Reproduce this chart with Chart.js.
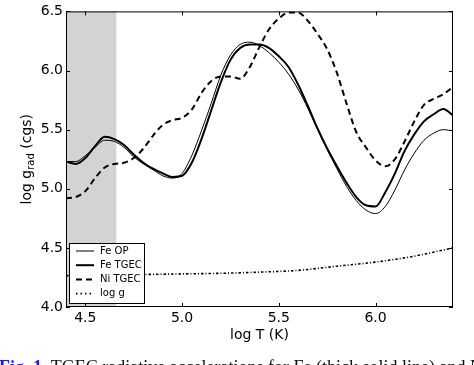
<!DOCTYPE html>
<html>
<head>
<meta charset="utf-8">
<script src="https://cdn.jsdelivr.net/npm/chart.js@4.4.1/dist/chart.umd.min.js"></script>
<style>
  html, body { margin: 0; padding: 0; background: #fff; overflow: hidden; }
  #wrap { position: relative; width: 474px; height: 365px; overflow: hidden; }
  #grafico { position: absolute; left: 0; top: 0; }
  #legenda {
    position: absolute; left: -1px; top: 357px; white-space: nowrap;
    font-family: "Liberation Serif", serif; font-size: 18px; color: #111;
  }
  #legenda b { color: #1a1aff; }
</style>
</head>
<body>
<div id="wrap">
  <canvas id="grafico" width="474" height="365"></canvas>
  <div id="legenda"><b>Fig. 1.</b> TGEC radiative accelerations for Fe (thick solid line) and Ni</div>
</div>
<script>
// valores
const logT = [4.40, 4.45, 4.50, 4.55, 4.60, 4.65, 4.70, 4.75, 4.80, 4.85, 4.90, 4.95,
  5.00, 5.05, 5.10, 5.15, 5.20, 5.25, 5.30, 5.35, 5.40, 5.45, 5.50, 5.55, 5.60, 5.65,
  5.70, 5.75, 5.80, 5.85, 5.90, 5.95, 6.00, 6.05, 6.10, 6.15, 6.20, 6.25, 6.30, 6.35, 6.40];

const feOP = [5.23, 5.23, 5.28, 5.35, 5.41, 5.40, 5.35, 5.27, 5.21, 5.16, 5.11, 5.09,
  5.13, 5.28, 5.49, 5.72, 5.96, 6.13, 6.22, 6.24, 6.21, 6.15, 6.07, 5.97, 5.84, 5.68,
  5.50, 5.33, 5.17, 5.02, 4.90, 4.82, 4.79, 4.85, 4.99, 5.16, 5.30, 5.41, 5.47, 5.50, 5.49];

const feTGEC = [5.23, 5.21, 5.26, 5.36, 5.44, 5.42, 5.37, 5.29, 5.22, 5.17, 5.13, 5.10,
  5.11, 5.22, 5.42, 5.66, 5.90, 6.09, 6.19, 6.22, 6.22, 6.19, 6.12, 6.03, 5.88, 5.70,
  5.51, 5.34, 5.19, 5.05, 4.93, 4.86, 4.85, 4.97, 5.13, 5.32, 5.46, 5.57, 5.63, 5.675, 5.62];

const niTGEC = [4.92, 4.93, 4.98, 5.09, 5.18, 5.21, 5.22, 5.26, 5.34, 5.45, 5.54, 5.58,
  5.60, 5.67, 5.81, 5.91, 5.95, 5.95, 5.93, 6.03, 6.20, 6.35, 6.44, 6.49, 6.49, 6.42,
  6.31, 6.18, 5.98, 5.72, 5.48, 5.35, 5.24, 5.19, 5.25, 5.40, 5.57, 5.71, 5.76, 5.80, 5.86];

const logTg = [4.40, 4.60, 4.80, 5.00, 5.20, 5.40, 5.60, 5.80, 6.00, 6.20, 6.40];
const logg = [4.265, 4.27, 4.275, 4.28, 4.285, 4.295, 4.31, 4.345, 4.38, 4.43, 4.50];

const faixa = [4.40, 4.66];
const xTicks = [4.5, 5.0, 5.5, 6.0];
const yTicks = [4.0, 4.5, 5.0, 5.5, 6.0, 6.5];
const nomes = ['Fe OP', 'Fe TGEC', 'Ni TGEC', 'log g'];

const pontos = (xs, ys) => xs.map((x, i) => ({ x: x, y: ys[i] }));

const estilos = [
  { borderWidth: 1, borderDash: [] },
  { borderWidth: 2, borderDash: [] },
  { borderWidth: 2, borderDash: [6, 4] },
  { borderWidth: 1.6, borderDash: [2.5, 2, 1, 2] }
];
const dashLegenda = [[], [], [6, 4], [1.5, 3]];

const dados = [pontos(logT, feOP), pontos(logT, feTGEC), pontos(logT, niTGEC), pontos(logTg, logg)];

const pluginFigura = {
  id: 'figura',
  beforeDatasetsDraw(chart) {
    const { ctx, chartArea: a, scales } = chart;
    const x0 = scales.x.getPixelForValue(faixa[0]);
    const x1 = scales.x.getPixelForValue(faixa[1]);
    ctx.save();
    ctx.fillStyle = '#d3d3d3';
    ctx.fillRect(x0, a.top, x1 - x0, a.bottom - a.top);
    ctx.restore();
  },
  afterDatasetsDraw(chart) {
    const { ctx, chartArea: a, scales } = chart;
    ctx.save();
    // moldura e marcas para dentro
    ctx.strokeStyle = '#000';
    ctx.lineWidth = 1;
    ctx.strokeRect(a.left + 0.5, a.top + 0.5, a.right - a.left - 1, a.bottom - a.top - 1);
    ctx.beginPath();
    xTicks.forEach(v => {
      const px = Math.round(scales.x.getPixelForValue(v)) + 0.5;
      ctx.moveTo(px, a.bottom); ctx.lineTo(px, a.bottom - 4);
      ctx.moveTo(px, a.top); ctx.lineTo(px, a.top + 4);
    });
    yTicks.forEach(v => {
      const py = Math.round(scales.y.getPixelForValue(v)) + 0.5;
      ctx.moveTo(a.left, py); ctx.lineTo(a.left + 4, py);
      ctx.moveTo(a.right, py); ctx.lineTo(a.right - 4, py);
    });
    ctx.stroke();

    // legenda dentro do gráfico
    const lx = 69, ly = 243, lw = 75, lh = 60;
    ctx.fillStyle = '#fff';
    ctx.fillRect(lx, ly, lw, lh);
    ctx.strokeRect(lx + 0.5, ly + 0.5, lw, lh);
    ctx.font = '10px "DejaVu Sans"';
    ctx.textBaseline = 'middle';
    nomes.forEach((n, i) => {
      const y = ly + 8 + i * 14.2;
      ctx.lineWidth = estilos[i].borderWidth;
      ctx.setLineDash(dashLegenda[i]);
      ctx.beginPath();
      ctx.moveTo(lx + 7, y); ctx.lineTo(lx + 25, y);
      ctx.stroke();
      ctx.setLineDash([]);
      ctx.fillStyle = '#000';
      ctx.fillText(n, lx + 31, y);
    });

    // título do eixo y com subscrito
    ctx.translate(27, (a.top + a.bottom) / 2);
    ctx.rotate(-Math.PI / 2);
    ctx.textBaseline = 'middle';
    const p1 = 'log g', p2 = 'rad', p3 = ' (cgs)';
    ctx.font = '14px "DejaVu Sans"';
    const w1 = ctx.measureText(p1).width, w3 = ctx.measureText(p3).width;
    ctx.font = '10px "DejaVu Sans"';
    const w2 = ctx.measureText(p2).width;
    let x = -(w1 + w2 + w3) / 2;
    ctx.font = '14px "DejaVu Sans"';
    ctx.fillText(p1, x, 0); x += w1;
    ctx.font = '10px "DejaVu Sans"';
    ctx.fillText(p2, x, 4); x += w2;
    ctx.font = '14px "DejaVu Sans"';
    ctx.fillText(p3, x, 0);
    ctx.restore();
  }
};

const grafico = new Chart(document.getElementById('grafico').getContext('2d'), {
  type: 'scatter',
  data: {
    datasets: dados.map((d, i) => ({
      label: nomes[i],
      data: d,
      showLine: true,
      borderColor: '#000',
      borderWidth: estilos[i].borderWidth,
      borderDash: estilos[i].borderDash,
      pointRadius: 0,
      cubicInterpolationMode: 'monotone',
      fill: false
    }))
  },
  options: {
    responsive: false,
    animation: false,
    layout: { padding: { top: 7, right: 21, left: 0, bottom: 19 } },
    plugins: { legend: { display: false }, tooltip: { enabled: false } },
    scales: {
      x: {
        type: 'linear', min: 4.4, max: 6.4,
        afterBuildTicks: s => { s.ticks = xTicks.map(v => ({ value: v })); },
        afterFit: s => { s.height = 39; },
        grid: { display: false, drawTicks: false },
        border: { display: false },
        ticks: { color: '#000', font: { family: 'DejaVu Sans', size: 14 }, padding: 3,
                 callback: v => v.toFixed(1), maxRotation: 0 },
        title: { display: true, text: 'log T (K)', color: '#000',
                 font: { family: 'DejaVu Sans', size: 14 }, padding: { top: 0, bottom: 2 } }
      },
      y: {
        type: 'linear', min: 4.0, max: 6.5,
        afterBuildTicks: s => { s.ticks = yTicks.map(v => ({ value: v })); },
        afterFit: s => { s.width = 66; },
        grid: { display: false, drawTicks: false },
        border: { display: false },
        ticks: { color: '#000', font: { family: 'DejaVu Sans', size: 14 }, padding: 3,
                 callback: v => v.toFixed(1) }
      }
    }
  },
  plugins: [pluginFigura]
});
</script>
</body>
</html>
